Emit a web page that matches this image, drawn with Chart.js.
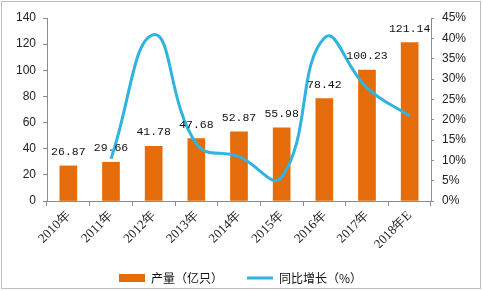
<!DOCTYPE html>
<html><head><meta charset="utf-8">
<script src="https://cdn.jsdelivr.net/npm/chart.js@4"></script>
<style>html,body{margin:0;padding:0;background:#fff}#wrap{width:483px;height:291px;position:relative}</style>
</head><body><div id="wrap"><canvas id="c" width="483" height="291"></canvas></div>
<script>
const categories = ['2010年','2011年','2012年','2013年','2014年','2015年','2016年','2017年','2018年E'];
const output = [26.87, 29.66, 41.78, 47.68, 52.87, 55.98, 78.42, 100.23, 121.14];
const growth = [null, 10.4, 40.9, 14.1, 10.9, 5.9, 40.1, 27.8, 20.9];
const seriesNames = ['产量（亿只）', '同比增长（%）'];

const ORANGE = '#E46C0A';
const BLUE = '#2FB3DF';
const AXIS = '#8C8C8C';

const valueLabels = {
  id: 'valueLabels',
  afterDatasetsDraw(chart) {
    const ctx = chart.ctx;
    const meta = chart.getDatasetMeta(0);
    ctx.save();
    ctx.font = '11.5px "Liberation Mono", "DejaVu Sans Mono", monospace';
    ctx.fillStyle = '#111';
    ctx.textAlign = 'center';
    ctx.textBaseline = 'middle';
    meta.data.forEach((el, i) => {
      ctx.fillText(output[i].toFixed(2), el.x, el.y - 14);
    });
    ctx.restore();
  }
};
const frame = {
  id: 'frame',
  afterDraw(chart) {
    const ctx = chart.ctx;
    ctx.save();
    ctx.strokeStyle = '#BDBDBD';
    ctx.lineWidth = 1;
    ctx.strokeRect(1.5, 1.5, 479, 287);
    ctx.restore();
  }
};

new Chart(document.getElementById('c'), {
  data: {
    labels: categories,
    datasets: [
      { type: 'bar', label: seriesNames[0], data: output, backgroundColor: ORANGE, borderWidth: 0,
        yAxisID: 'y', barThickness: 17, order: 1 },
      { type: 'line', label: seriesNames[1], data: growth, borderColor: BLUE, backgroundColor: BLUE,
        borderWidth: 3, pointRadius: 0, tension: 0.45, yAxisID: 'y1', order: 0 }
    ]
  },
  options: {
    responsive: false,
    animation: false,
    layout: { padding: { left: 1, right: 3, top: 18, bottom: -3 } },
    plugins: {
      tooltip: { enabled: false },
      legend: {
        position: 'bottom',
        labels: {
          usePointStyle: true,
          pointStyleWidth: 26,
          boxHeight: 8,
          padding: 24,
          color: '#111',
          font: { size: 12, family: '"Noto Sans CJK SC", sans-serif' },
          generateLabels(chart) {
            return chart.data.datasets.map((ds, i) => ({
              text: ds.label,
              fillStyle: i === 0 ? ORANGE : BLUE,
              strokeStyle: i === 0 ? ORANGE : BLUE,
              lineWidth: i === 0 ? 0 : 3,
              pointStyle: i === 0 ? 'rect' : 'line',
              fontColor: '#111',
              datasetIndex: i,
              hidden: false
            }));
          }
        }
      }
    },
    scales: {
      x: {
        offset: true,
        grid: { display: true, drawOnChartArea: false, drawTicks: true, tickLength: 5, color: AXIS, offset: true },
        border: { color: AXIS },
        ticks: { maxRotation: 45, minRotation: 45, color: '#222', padding: 2,
                 font: { size: 13, family: '"Liberation Serif", serif' } },
        afterFit(s) { s.height = 47; }
      },
      y: {
        position: 'left', min: 0, max: 140,
        ticks: { stepSize: 20, color: '#222', padding: 7, font: { size: 12, family: '"Liberation Sans", Arial, sans-serif' } },
        grid: { drawOnChartArea: false, tickLength: 4, color: AXIS },
        border: { color: AXIS },
        afterFit(s) { s.width = 46; }
      },
      y1: {
        position: 'right', min: 0, max: 45,
        ticks: { stepSize: 5, color: '#222', padding: 8, callback: v => v + '%',
                 font: { size: 12, family: '"Liberation Sans", Arial, sans-serif' } },
        grid: { drawOnChartArea: false, tickLength: 3, color: AXIS },
        border: { color: AXIS },
        afterFit(s) { s.width = 49; }
      }
    }
  },
  plugins: [valueLabels, frame]
});
</script></body></html>
